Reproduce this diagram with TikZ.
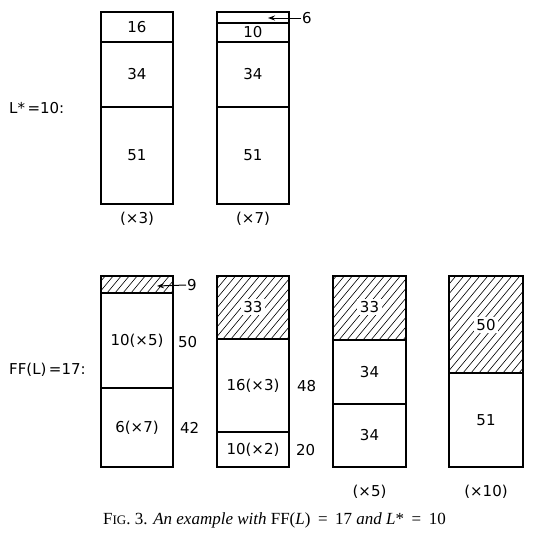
\documentclass[tikz,border=0pt]{standalone}
\usepackage{fontspec}
\setmainfont{Liberation Serif}
\newfontfamily\lettering{DejaVu Sans}
\usetikzlibrary{arrows.meta}
\tikzset{
  cell/.style={draw, line width=1.6pt, inner sep=0pt, font=\lettering\fontsize{15}{15}\selectfont},
  lbl/.style={inner sep=1pt, font=\lettering\fontsize{15}{15}\selectfont},
  hatchlbl/.style={lbl, fill=white, inner sep=2.5pt},
  hatchline/.style={line width=0.6pt},
  pointer/.style={line width=1pt, -{Stealth[length=7pt,width=5pt]}}
}
\newcommand{\hatchrect}[4]{%
  \begin{scope}
    \clip (#1,#2) rectangle (#3,#4);
    \foreach \k in {-130,-122,...,90} \draw[hatchline] ({#1+\k},#4) -- ++(110,-132);
  \end{scope}}
\begin{document}
\begin{tikzpicture}[x=1pt,y=-1pt]
\useasboundingbox (0,0) rectangle (538,541);
% ---------- top row ----------
\node[lbl, anchor=west] (lstar) at (8,108) {L*\,=10:};
% box A
\node[cell, minimum width=72, minimum height=30] (a1) at (137,27) {16};
\node[cell, minimum width=72, minimum height=65] (a2) at (137,74.5) {34};
\node[cell, minimum width=72, minimum height=97] (a3) at (137,155.5) {51};
\node[lbl] (am) at (137,219) {(×3)};
% box B
\node[cell, minimum width=72, minimum height=11] (b0) at (253,17.5) {};
\node[cell, minimum width=72, minimum height=19] (b1) at (253,32.5) {10};
\node[cell, minimum width=72, minimum height=65] (b2) at (253,74.5) {34};
\node[cell, minimum width=72, minimum height=97] (b3) at (253,155.5) {51};
\node[lbl] (bm) at (253,219) {(×7)};
\node[lbl, anchor=west] (six) at (301,18) {6};
\coordinate (sixtip) at (268,18);
\draw[pointer] (six.west) -- (sixtip);
% ---------- bottom row ----------
\node[lbl, anchor=west] (ff) at (8,370) {FF(L)\,=17:};
% box C
\hatchrect{101}{276}{173}{293}
\node[cell, minimum width=72, minimum height=17] (c0) at (137,284.5) {};
\node[cell, minimum width=72, minimum height=95] (c1) at (137,340.5) {10(×5)};
\node[cell, minimum width=72, minimum height=79] (c2) at (137,427.5) {6(×7)};
\node[lbl, anchor=west] (c1s) at (177,342) {50};
\node[lbl, anchor=west] (c2s) at (179,428) {42};
\node[lbl, anchor=west] (nine) at (186,285) {9};
\coordinate (ninetip) at (157,286);
\draw[pointer] (nine.west) -- (ninetip);
% box D
\hatchrect{217}{276}{289}{339}
\node[cell, minimum width=72, minimum height=63] (d0) at (253,307.5) {};
\node[hatchlbl] (d0l) at (253,307) {33};
\node[cell, minimum width=72, minimum height=93] (d1) at (253,385.5) {16(×3)};
\node[cell, minimum width=72, minimum height=35] (d2) at (253,449.5) {10(×2)};
\node[lbl, anchor=west] (d1s) at (296,386) {48};
\node[lbl, anchor=west] (d2s) at (295,450) {20};
% box E
\hatchrect{333}{276}{406}{340}
\node[cell, minimum width=73, minimum height=64] (e0) at (369.5,308) {};
\node[hatchlbl] (e0l) at (369.5,307) {33};
\node[cell, minimum width=73, minimum height=64] (e1) at (369.5,372) {34};
\node[cell, minimum width=73, minimum height=63] (e2) at (369.5,435.5) {34};
\node[lbl] (em) at (369.5,492) {(×5)};
% box F
\hatchrect{449}{276}{523}{373}
\node[cell, minimum width=74, minimum height=97] (f0) at (486,324.5) {};
\node[hatchlbl] (f0l) at (486,325) {50};
\node[cell, minimum width=74, minimum height=94] (f1) at (486,420) {51};
\node[lbl] (fm) at (486,492) {(×10)};
% ---------- caption ----------
\node[anchor=west, inner sep=0pt, font=\fontsize{17}{17}\selectfont] (cap) at (103,520)
  {F{\fontsize{13}{13}\selectfont IG}. 3. \textit{An example with} FF(\textit{L})\;\,=\;\,17 \textit{and L}*\;\,=\;\,10};
\end{tikzpicture}
\end{document}
